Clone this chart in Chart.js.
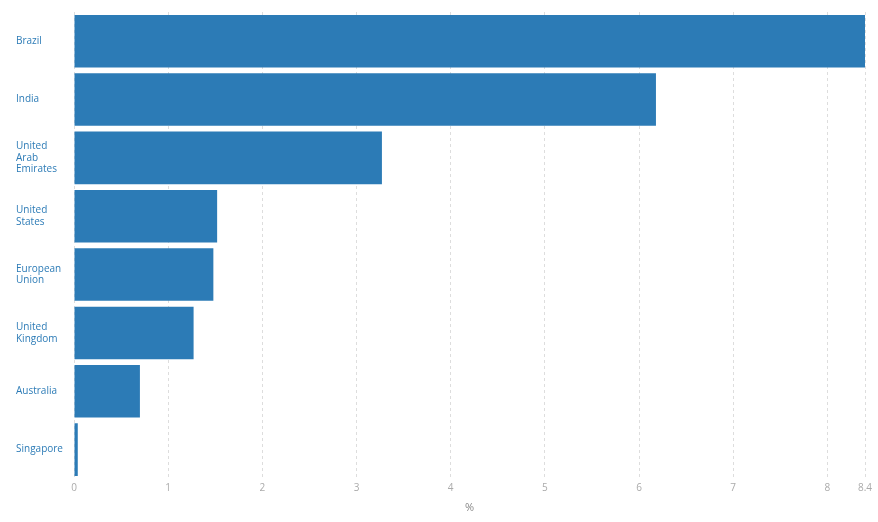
<!DOCTYPE html>
<html>
<head>
<meta charset="utf-8">
<script src="https://cdn.jsdelivr.net/npm/chart.js"></script>
<style>
  html, body { margin: 0; padding: 0; background: #fff; }
  #wrap { width: 878px; height: 522px; }
</style>
</head>
<body>
<div id="wrap"><canvas id="chart"></canvas></div>
<script>
const categories = [
  ['Brazil'], ['India'], ['United', 'Arab', 'Emirates'], ['United', 'States'],
  ['European', 'Union'], ['United', 'Kingdom'], ['Australia'], ['Singapore']
];
const values = [8.4, 6.18, 3.27, 1.52, 1.48, 1.27, 0.7, 0.04];

new Chart(document.getElementById('chart'), {
  type: 'bar',
  data: {
    labels: categories,
    datasets: [{
      data: values,
      backgroundColor: '#2c7bb6',
      barPercentage: 0.9,
      categoryPercentage: 1,
    }],
  },
  options: {
    indexAxis: 'y',
    responsive: true,
    maintainAspectRatio: false,
    animation: false,
    layout: { padding: { left: 16, right: 13, top: 12, bottom: 4 } },
    plugins: { legend: { display: false }, tooltip: { enabled: false } },
    scales: {
      x: {
        min: 0,
        max: 8.4,
        ticks: { stepSize: 1, color: '#aaa', font: { family: 'Open Sans', size: 10 } },
        grid: { color: '#ddd', borderDash: [3, 3], drawTicks: false },
        border: { display: false, dash: [3, 3] },
        title: { display: true, text: '%', color: '#888', font: { family: 'Open Sans', size: 11 } },
      },
      y: {
        afterFit: (s) => { s.width = 58; },
        grid: { display: false },
        border: { display: false },
        ticks: {
          crossAlign: 'far',
          color: '#2c7bb6',
          font: { family: 'Open Sans', size: 10, lineHeight: 1.15 },
        },
      },
    },
  },
});
</script>
</body>
</html>
